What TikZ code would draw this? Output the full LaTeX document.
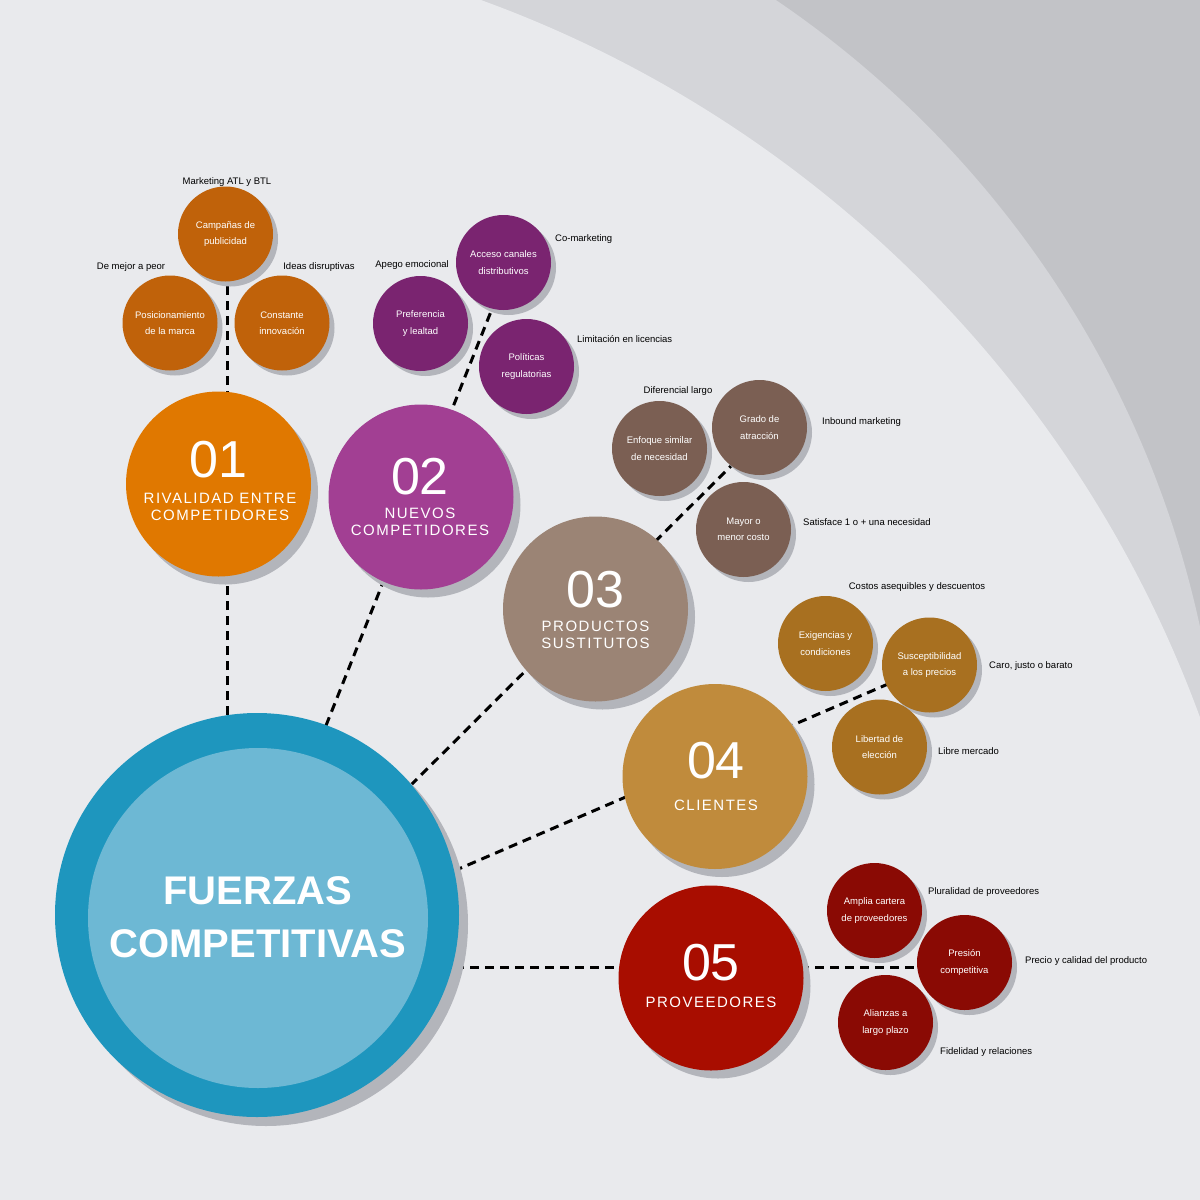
\documentclass[tikz,border=0pt]{standalone}
\usepackage{fontspec}
\setmainfont{Liberation Sans}
\newfontfamily\spacedf[LetterSpace=10]{Liberation Sans}
\usetikzlibrary{shadows}
\definecolor{bga}{HTML}{E9EAED}
\definecolor{bgb}{HTML}{D4D5D9}
\definecolor{bgc}{HTML}{C2C3C7}
\definecolor{shd}{HTML}{B3B5BB}
\definecolor{fzo}{HTML}{1E96BE}
\definecolor{fzi}{HTML}{6DB8D4}
\definecolor{ca}{HTML}{E07800}
\definecolor{cb}{HTML}{A23F93}
\definecolor{cc}{HTML}{9B8475}
\definecolor{cd}{HTML}{C08B3C}
\definecolor{ce}{HTML}{A80D00}
\definecolor{sa}{HTML}{C0620A}
\definecolor{sb}{HTML}{7A2470}
\definecolor{sc}{HTML}{7B5F53}
\definecolor{sd}{HTML}{A87020}
\definecolor{se}{HTML}{8A0A04}
\newcommand\smallf{\fontsize{9.5}{16.5}\selectfont}
\newcommand\numf{\fontsize{52}{52}\selectfont}
\newcommand\titf{\spacedf\fontsize{15}{17}\selectfont}
\tikzset{
  conn/.style={draw=black, line width=3pt, dash pattern=on 9pt off 6pt},
  smallbub/.style={circle, inner sep=0pt, minimum size=95pt, text=white, align=center, font=\smallf,
    general shadow={fill=shd, shadow xshift=5pt, shadow yshift=-5pt}},
  bigbub/.style={circle, inner sep=0pt, minimum size=185pt,
    general shadow={fill=shd, shadow xshift=7pt, shadow yshift=-8pt}},
  numtxt/.style={text=white, font=\numf, inner sep=0pt},
  tittxt/.style={text=white, font=\titf, align=center, inner sep=0pt},
  lab/.style={font=\smallf, text=black, inner sep=0pt}
}
\begin{document}
\begin{tikzpicture}[x=1pt,y=-1pt]
\useasboundingbox (0,0) rectangle (1200,1200);
\clip (0,0) rectangle (1200,1200);
% background
\fill[bgc] (0,0) rectangle (1200,1200);
\fill[bgb] (205,843) circle (1018pt);
\fill[bga] (70,1131) circle (1203pt);

% connector end points
\coordinate (l1s) at (227,760);
\coordinate (l1e) at (227,262);
\coordinate (l2s) at (320.4,739.6);
\coordinate (l2e) at (495.3,300.7);
\coordinate (l3s) at (400,796);
\coordinate (l3e) at (740,457);
\coordinate (l4s) at (440,877);
\coordinate (l4e) at (895,681);
\coordinate (l5s) at (440,967);
\coordinate (l5e) at (930,967);
\draw[conn] (l1s) -- (l1e);
\draw[conn] (l2s) -- (l2e);
\draw[conn] (l3s) -- (l3e);
\draw[conn] (l4s) -- (l4e);
\draw[conn] (l5s) -- (l5e);

% main circle
\node[circle, inner sep=0pt, minimum size=404pt, fill=fzo,
  general shadow={fill=shd, shadow xshift=9pt, shadow yshift=-9pt}] (fz) at (257,915) {};
\node[circle, inner sep=0pt, minimum size=340pt, fill=fzi] (fzin) at (258,918) {};
\node[text=white, font=\bfseries\fontsize{40}{53}\selectfont, align=center, inner sep=0pt] (fzt) at (258,917) {FUERZAS\\COMPETITIVAS};

% big numbered circles
\node[bigbub, fill=ca] (b1) at (218.5,484) {};
\node[numtxt] (n1) at (218.5,460) {01};
\node[tittxt] (t1) at (220,507) {RIVALIDAD ENTRE\\COMPETIDORES};

\node[bigbub, fill=cb] (b2) at (421,497) {};
\node[numtxt] (n2) at (420,477) {02};
\node[tittxt] (t2) at (420,522) {NUEVOS\\COMPETIDORES};

\node[bigbub, fill=cc] (b3) at (595.5,609) {};
\node[numtxt] (n3) at (595.5,590) {03};
\node[tittxt] (t3) at (595.5,634.5) {PRODUCTOS\\SUSTITUTOS};

\node[bigbub, fill=cd] (b4) at (715,776.5) {};
\node[numtxt] (n4) at (716,761) {04};
\node[tittxt] (t4) at (716,805) {CLIENTES};

\node[bigbub, fill=ce] (b5) at (711,978) {};
\node[numtxt] (n5) at (711,963) {05};
\node[tittxt] (t5) at (711,1002) {PROVEEDORES};

% cluster 01
\node[smallbub, fill=sa] (c1a) at (225.5,234) {Campañas de\\publicidad};
\node[smallbub, fill=sa] (c1b) at (170,323) {Posicionamiento\\de la marca};
\node[smallbub, fill=sa] (c1c) at (282,323) {Constante\\innovación};
\node[lab] (m1a) at (227,182) {Marketing ATL y BTL};
\node[lab] (m1b) at (131,267) {De mejor a peor};
\node[lab] (m1c) at (319,267) {Ideas disruptivas};

% cluster 02
\node[smallbub, fill=sb] (c2a) at (503.5,262.5) {Acceso canales\\distributivos};
\node[smallbub, fill=sb] (c2b) at (420.5,323.5) {Preferencia\\y lealtad};
\node[smallbub, fill=sb] (c2c) at (526.5,366.5) {Políticas\\regulatorias};
\node[lab, anchor=west] (m2a) at (555,239) {Co-marketing};
\node[lab, anchor=east] (m2b) at (449,265) {Apego emocional};
\node[lab, anchor=west] (m2c) at (577,339) {Limitación en licencias};

% cluster 03
\node[smallbub, fill=sc] (c3a) at (659.5,448.5) {Enfoque similar\\de necesidad};
\node[smallbub, fill=sc] (c3b) at (759.5,427.5) {Grado de\\atracción};
\node[smallbub, fill=sc] (c3c) at (743.5,529.5) {Mayor o\\menor costo};
\node[lab] (m3a) at (678,391) {Diferencial largo};
\node[lab, anchor=west] (m3b) at (822,422) {Inbound marketing};
\node[lab, anchor=west] (m3c) at (803,522) {Satisface 1 o + una necesidad};

% cluster 04
\node[smallbub, fill=sd] (c4a) at (825.5,643.5) {Exigencias y\\condiciones};
\node[smallbub, fill=sd] (c4b) at (929.5,665) {Susceptibilidad\\a los precios};
\node[smallbub, fill=sd] (c4c) at (879.5,747) {Libertad de\\elección};
\node[lab] (m4a) at (917,587) {Costos asequibles y descuentos};
\node[lab, anchor=west] (m4b) at (989,666) {Caro, justo o barato};
\node[lab, anchor=west] (m4c) at (938,751) {Libre mercado};

% cluster 05
\node[smallbub, fill=se] (c5a) at (874.5,910.5) {Amplia cartera\\de proveedores};
\node[smallbub, fill=se] (c5b) at (964.5,962.5) {Presión\\competitiva};
\node[smallbub, fill=se] (c5c) at (885.5,1022.5) {Alianzas a\\largo plazo};
\node[lab, anchor=west] (m5a) at (928,892) {Pluralidad de proveedores};
\node[lab, anchor=west] (m5b) at (1025,961) {Precio y calidad del producto};
\node[lab, anchor=west] (m5c) at (940,1052) {Fidelidad y relaciones};
\end{tikzpicture}
\end{document}
